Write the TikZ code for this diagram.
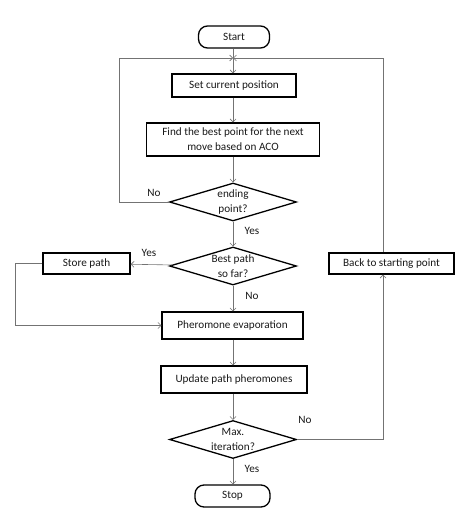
\documentclass[tikz,border=0pt]{standalone}
\usepackage{fontspec}
\setmainfont{Carlito}
\usetikzlibrary{shapes.geometric,arrows.meta}
\tikzset{
  box/.style={draw, line width=1.3pt, inner sep=1pt, text=black!90},
  term/.style={box, rounded corners=9pt},
  decision/.style={draw, diamond, line width=1.3pt, inner sep=0pt,
    minimum width=127pt, minimum height=38pt},
  flow/.style={draw=black!55, line width=.6pt,
    -{Straight Barb[length=3pt,width=6pt]}},
  tag/.style={text=black!90, inner sep=0pt, align=center}
}
\begin{document}
\begin{tikzpicture}[x=1pt,y=-1pt,font=\fontsize{11.2}{15}\selectfont]
  \useasboundingbox (0,0) rectangle (474,527);
  % main column
  \node[term, minimum width=71pt, minimum height=22pt] (start) at (234,37) {Start};
  \coordinate (join) at (233,58);
  \coordinate (nw) at (119,58);
  \coordinate (ne) at (383,58);
  \node[box, minimum width=124pt, minimum height=23pt] (set) at (234,85.5) {Set current position};
  \node[box, minimum width=173pt, minimum height=33pt, align=center] (find) at (233,139.5)
    {Find the best point for the next\\move based on ACO};
  \node[decision] (end) at (233,202) {};
  \node[tag] (endtxt) at (end) {ending\\point?};
  \node[decision] (best) at (233,266) {};
  \node[tag] (besttxt) at (best) {Best path\\so far?};
  \node[box, minimum width=87pt, minimum height=21pt] (store) at (86.5,263.5) {Store path};
  \node[box, minimum width=125pt, minimum height=21pt] (back) at (391.5,263.5) {Back to starting point};
  \node[box, minimum width=141pt, minimum height=27pt] (evap) at (232.5,325.5) {Pheromone evaporation};
  \node[box, minimum width=146pt, minimum height=27pt] (update) at (234,379.5) {Update path pheromones};
  \node[decision] (max) at (233,439.5) {};
  \node[tag] (maxtxt) at (max) {Max.\\iteration?};
  \node[term, minimum width=75pt, minimum height=22pt] (stop) at (232.5,496) {Stop};
  % answers
  \node[tag] (no1) at (154,193) {No};
  \node[tag] (yes1) at (252,231) {Yes};
  \node[tag] (yes2) at (149,253) {Yes};
  \node[tag] (no2) at (252,296) {No};
  \node[tag] (no3) at (305,420) {No};
  \node[tag] (yes3) at (252,469) {Yes};
  % connectors
  \draw[flow] (start.south -| join) -- (set.north -| join);
  \draw[flow] (set.south -| join) -- (find.north -| join);
  \draw[flow] (find.south -| end) -- (end);
  \draw[flow] (end) -- (best);
  \draw[flow] (end.west) -| (nw) -- (join);
  \draw[flow] (back.north -| ne) -- (ne) -- (join);
  \draw[flow] (best) -- (store);
  \draw[flow] (best) -- (best.south |- evap.north);
  \draw[flow] (store.west) -- ++(-27,0) |- (evap.west);
  \draw[flow] (evap.south -| max) -- (update.north -| max);
  \draw[flow] (update.south -| max) -- (max);
  \draw[flow] (max.east) -| (back.south -| ne);
  \draw[flow] (max) -- (stop.north -| max);
\end{tikzpicture}
\end{document}
